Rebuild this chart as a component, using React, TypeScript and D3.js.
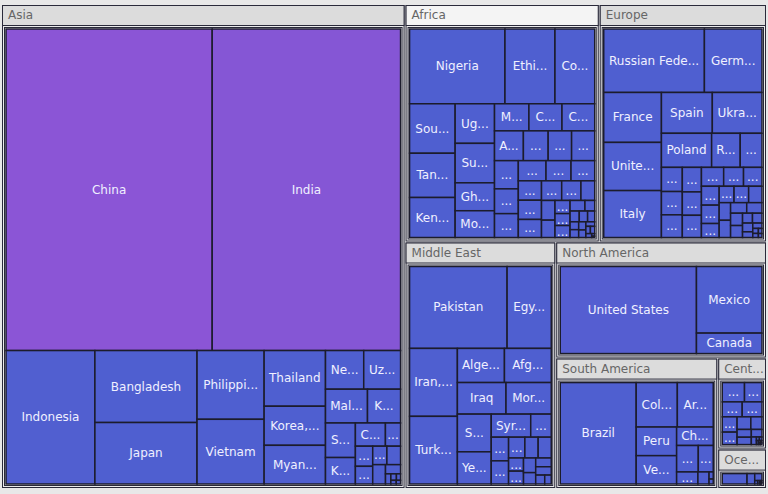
import React, { useMemo } from "react";
import * as d3 from "d3";

const W = 768;
const H = 494;

const regionNames = [
  "Asia",
  "Africa",
  "Europe",
  "Middle East",
  "North America",
  "South America",
  "Central America",
  "Oceania",
];

const asiaNames = ["China", "India", "Indonesia", "Bangladesh", "Japan", "Philippines", "Vietnam", "Thailand", "Korea, Rep.", "Myanmar", "Nepal", "Uzbekistan", "Malaysia", "Korea, Dem. Rep.", "Sri Lanka", "Kazakhstan", "Cambodia", "Tajikistan", "Hong Kong SAR, China", "Lao PDR", "Kyrgyz Republic", "Singapore", "Turkmenistan", "Mongolia", "Timor-Leste", "Bhutan", "Macao SAR, China", "Brunei Darussalam", "Maldives"];
const asiaPop = [1341, 1225, 240, 148.7, 127, 93.3, 87.8, 69.1, 48.5, 48.0, 29.9, 28.8, 28.7, 22.6, 20.9, 16.0, 14.1, 7.1, 7.05, 6.2, 5.3, 5.1, 5.0, 2.8, 1.1, 0.73, 0.54, 0.4, 0.32];

const africaNames = ["Nigeria", "Ethiopia", "Congo, Dem. Rep.", "South Africa", "Tanzania", "Kenya", "Uganda", "Sudan", "Ghana", "Mozambique", "Madagascar", "Cameroon", "Cote d'Ivoire", "Angola", "Burkina Faso", "Niger", "Mali", "Malawi", "Zambia", "Zimbabwe", "Senegal", "Chad", "Rwanda", "Guinea", "South Sudan", "Somalia", "Benin", "Burundi", "Togo", "Sierra Leone", "Eritrea", "Central African Republic", "Congo, Rep.", "Liberia", "Mauritania", "Namibia", "Lesotho", "Botswana", "Gambia, The", "Guinea-Bissau", "Gabon", "Mauritius", "Swaziland", "Djibouti", "Comoros", "Equatorial Guinea", "Cape Verde", "Sao Tome and Principe", "Seychelles"];
const africaPop = [158.4, 83.0, 66.0, 50.1, 44.8, 40.5, 34.6, 34.5, 24.4, 23.4, 20.7, 19.9, 19.7, 19.1, 16.4, 15.5, 15.3, 14.9, 13.1, 12.6, 12.4, 11.2, 10.6, 10.0, 9.9, 9.3, 8.8, 8.4, 6.0, 5.9, 5.2, 4.4, 4.0, 4.0, 3.5, 2.3, 2.2, 2.0, 1.7, 1.5, 1.5, 1.3, 1.2, 0.89, 0.73, 0.7, 0.5, 0.17, 0.09];

const europeNames = ["Russian Federation", "Germany", "France", "United Kingdom", "Italy", "Spain", "Ukraine", "Poland", "Romania", "Netherlands", "Greece", "Belgium", "Portugal", "Czech Republic", "Hungary", "Belarus", "Sweden", "Austria", "Switzerland", "Bulgaria", "Serbia", "Denmark", "Slovak Republic", "Finland", "Norway", "Ireland", "Croatia", "Bosnia and Herzegovina", "Moldova", "Lithuania", "Albania", "Latvia", "Macedonia, FYR", "Slovenia", "Estonia", "Cyprus", "Montenegro", "Luxembourg", "Malta", "Iceland"];
const europePop = [143, 81.8, 64.5, 62.2, 60.6, 46.5, 45.4, 38.3, 21.8, 16.6, 11.3, 10.9, 10.6, 10.5, 10.0, 9.5, 9.4, 8.4, 7.8, 7.5, 7.3, 5.55, 5.46, 5.36, 4.9, 4.5, 4.4, 3.8, 3.6, 3.3, 3.2, 2.2, 2.1, 2.0, 1.3, 1.1, 0.63, 0.51, 0.41, 0.32];

const middleEastNames = ["Pakistan", "Egypt, Arab Rep.", "Iran, Islamic Rep.", "Turkey", "Algeria", "Afghanistan", "Iraq", "Morocco", "Saudi Arabia", "Yemen, Rep.", "Syrian Arab Republic", "Tunisia", "United Arab Emirates", "Azerbaijan", "Israel", "Jordan", "Libya", "Georgia", "Lebanon", "West Bank and Gaza", "Oman", "Armenia", "Kuwait", "Qatar", "Bahrain"];
const middleEastPop = [179, 81, 72.8, 72.5, 36.0, 35.8, 34.4, 32.0, 28.6, 24.4, 20.4, 10.6, 9.2, 9.0, 7.6, 6.2, 6.1, 4.4, 4.3, 4.0, 3.1, 3.05, 2.9, 1.8, 1.3];

const northAmericaNames = ["United States", "Mexico", "Canada"];
const northAmericaPop = [307, 113, 34.7];

const southAmericaNames = ["Brazil", "Colombia", "Argentina", "Peru", "Venezuela, RB", "Chile", "Ecuador", "Bolivia", "Paraguay", "Uruguay", "Guyana", "Suriname"];
const southAmericaPop = [195, 46.3, 40.4, 29.3, 29.0, 17.1, 14.5, 10.0, 6.5, 3.4, 0.75, 0.52];

const centralNames = ["Guatemala", "Cuba", "Haiti", "Dominican Republic", "Honduras", "El Salvador", "Nicaragua", "Costa Rica", "Puerto Rico", "Panama", "Jamaica", "Trinidad and Tobago", "Bahamas, The", "Belize", "Barbados", "St. Lucia", "St. Vincent and the Grenadines", "Grenada", "Antigua and Barbuda"];
const centralPop = [14.4, 11.3, 10.0, 9.9, 7.6, 6.2, 5.8, 4.7, 3.7, 3.5, 2.7, 1.3, 0.35, 0.31, 0.27, 0.17, 0.11, 0.1, 0.09];

const oceaniaNames = ["Australia", "Papua New Guinea", "New Zealand", "Fiji", "Solomon Islands", "Vanuatu", "Samoa", "Micronesia, Fed. Sts.", "Kiribati", "Tonga"];
const oceaniaPop = [22.3, 6.9, 4.4, 0.86, 0.54, 0.24, 0.18, 0.11, 0.1, 0.1];

const regionCountries = [asiaNames, africaNames, europeNames, middleEastNames, northAmericaNames, southAmericaNames, centralNames, oceaniaNames];
const regionValues = [asiaPop, africaPop, europePop, middleEastPop, northAmericaPop, southAmericaPop, centralPop, oceaniaPop];

const FONT = '12px "DejaVu Sans"';
let ctx: CanvasRenderingContext2D | null = null;
function measure(s: string): number {
  if (!ctx) {
    const c = document.createElement("canvas");
    ctx = c.getContext("2d");
  }
  if (!ctx) return s.length * 7;
  ctx.font = FONT;
  return ctx.measureText(s).width;
}

function fitLabel(label: string, avail: number, showDots: boolean): string {
  if (measure(label) <= avail) return label;
  for (let k = label.length - 1; k >= 1; k--) {
    const s = label.slice(0, k) + "...";
    if (measure(s) <= avail) return s;
  }
  return showDots ? "..." : "";
}

export default function App() {
  const { regions, leaves } = useMemo(() => {
    const data = {
      name: "World",
      children: regionNames.map((r, i) => ({
        name: r,
        children: regionCountries[i].map((n, j) => ({ name: n, value: regionValues[i][j] })),
      })),
    };
    const root = d3
      .hierarchy<any>(data)
      .sum((d: any) => d.value || 0)
      .sort((a, b) => (b.value || 0) - (a.value || 0));
    d3
      .treemap<any>()
      .tile(d3.treemapSquarify.ratio(1))
      .size([764, 483])
      .paddingInner((n: any) => (n.depth === 0 ? 1 : 0))
      .paddingTop((n: any) => (n.depth === 1 ? 24 : 0))
      .paddingLeft((n: any) => (n.depth === 1 ? 4 : 0))
      .paddingRight((n: any) => (n.depth === 1 ? 4 : 0))
      .paddingBottom((n: any) => (n.depth === 1 ? 4 : 0))(root);
    return { regions: root.children || [], leaves: root.leaves() };
  }, []);

  const color = d3
    .scaleLinear<string>()
    .domain([200, 1341])
    .range(["#4f5fd0", "#8b55d6"])
    .clamp(true);

  const stroke = "#2a2a3a";

  return (
    <div style={{ position: "absolute", left: 0, top: 0 }}>
      <svg width={W} height={H} style={{ display: "block", fontFamily: '"DejaVu Sans", sans-serif' }}>
        <rect x={0} y={0} width={W} height={H} fill="#e8e8e8" />
        <g transform="translate(2,5)">
          {regions.map((r: any) => {
            const w = r.x1 - r.x0;
            const h = r.y1 - r.y0;
            const name = r.data.name;
            return (
              <g key={name}>
                <rect x={r.x0 + 0.5} y={r.y0 + 0.5} width={w - 1} height={h - 1} fill="#ebebeb" stroke={stroke} strokeWidth={1} />
                <rect x={r.x0 + 0.5} y={r.y0 + 0.5} width={w - 1} height={20} fill={name === "Africa" ? "#f4f4f4" : "#dcdcdc"} stroke={stroke} strokeWidth={1} />
                <text x={r.x0 + 6} y={r.y0 + 14} fontSize={12} fill="#666666">
                  {fitLabel(name, w - 8, true)}
                </text>
                <rect x={r.x0 + 2.5} y={r.y0 + 22.5} width={w - 5} height={h - 25} fill="#ffffff" stroke={stroke} strokeWidth={1} />
              </g>
            );
          })}
          {leaves.map((l: any, i: number) => {
            const w = l.x1 - l.x0;
            const h = l.y1 - l.y0;
            return (
              <rect key={"r" + i} x={l.x0} y={l.y0} width={w} height={h} fill={color(l.value)} stroke="#1c1c2c" strokeWidth={1.5} />
            );
          })}
          {leaves.map((l: any, i: number) => {
            const w = l.x1 - l.x0;
            const h = l.y1 - l.y0;
            if (h < 11 || w < 14) return null;
            const label = fitLabel(l.data.name, w - 9, true);
            if (!label) return null;
            return (
              <text
                key={"t" + i}
                x={(l.x0 + l.x1) / 2}
                y={(l.y0 + l.y1) / 2}
                textAnchor="middle"
                dominantBaseline="central"
                fontSize={12}
                fill="#f0f0ff"
              >
                {label}
              </text>
            );
          })}
        </g>
      </svg>
    </div>
  );
}
